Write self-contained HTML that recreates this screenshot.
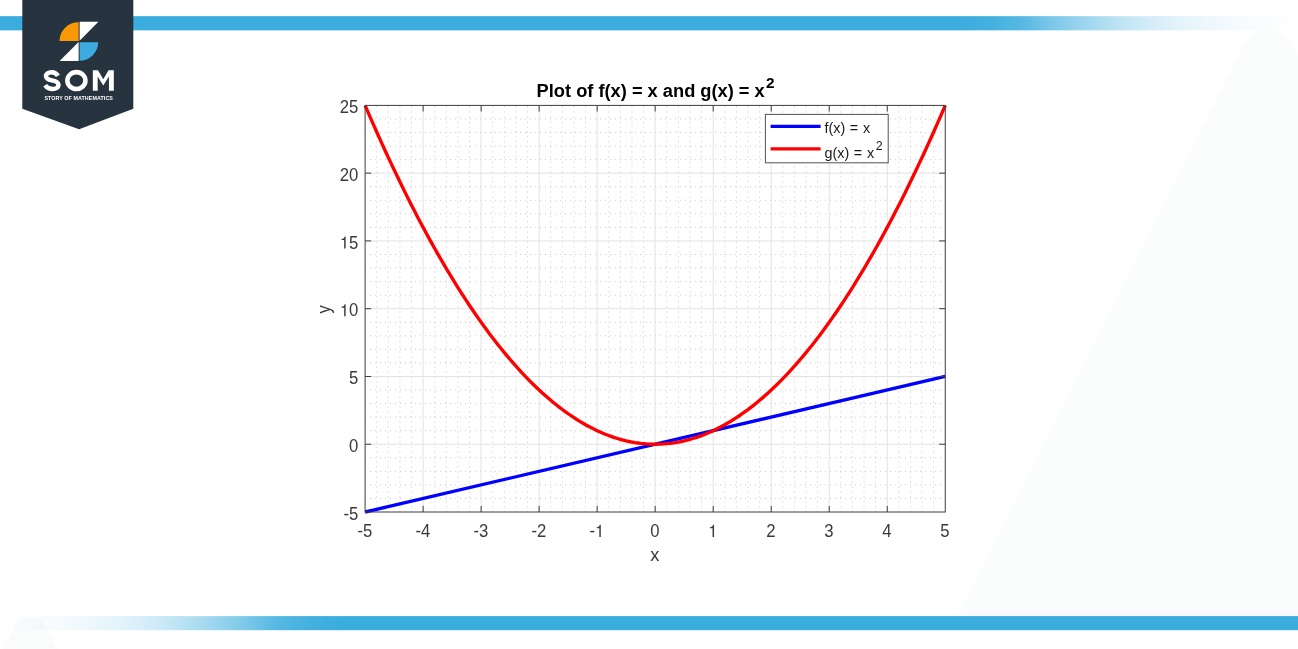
<!DOCTYPE html>
<html><head><meta charset="utf-8"><title>Plot</title>
<style>
html,body{margin:0;padding:0;background:#fff;}
body{width:1298px;height:649px;overflow:hidden;position:relative;font-family:"Liberation Sans",sans-serif;}
svg{position:absolute;left:0;top:0;display:block;will-change:transform;}
text{font-family:"Liberation Sans",sans-serif;}
</style></head><body>
<svg width="1298" height="649" viewBox="0 0 1298 649">
<defs>
<linearGradient id="gt" gradientUnits="userSpaceOnUse" x1="0" x2="1298" y1="0" y2="0"><stop offset="0.7357" stop-color="#3aacde" stop-opacity="1.0"/><stop offset="0.7627" stop-color="#3aacde" stop-opacity="0.95"/><stop offset="0.7881" stop-color="#3aacde" stop-opacity="0.85"/><stop offset="0.8112" stop-color="#3aacde" stop-opacity="0.66"/><stop offset="0.8351" stop-color="#3aacde" stop-opacity="0.5"/><stop offset="0.8590" stop-color="#3aacde" stop-opacity="0.35"/><stop offset="0.8821" stop-color="#3aacde" stop-opacity="0.235"/><stop offset="0.9060" stop-color="#3aacde" stop-opacity="0.15"/><stop offset="0.9299" stop-color="#3aacde" stop-opacity="0.09"/><stop offset="0.9530" stop-color="#3aacde" stop-opacity="0.05"/><stop offset="0.9769" stop-color="#3aacde" stop-opacity="0.025"/><stop offset="1.0000" stop-color="#3aacde" stop-opacity="0"/></linearGradient>
<linearGradient id="gb" gradientUnits="userSpaceOnUse" x1="0" x2="1298" y1="0" y2="0"><stop offset="0.0000" stop-color="#3aacde" stop-opacity="0"/><stop offset="0.0231" stop-color="#3aacde" stop-opacity="0.025"/><stop offset="0.0470" stop-color="#3aacde" stop-opacity="0.05"/><stop offset="0.0701" stop-color="#3aacde" stop-opacity="0.09"/><stop offset="0.0940" stop-color="#3aacde" stop-opacity="0.15"/><stop offset="0.1179" stop-color="#3aacde" stop-opacity="0.235"/><stop offset="0.1410" stop-color="#3aacde" stop-opacity="0.35"/><stop offset="0.1649" stop-color="#3aacde" stop-opacity="0.5"/><stop offset="0.1888" stop-color="#3aacde" stop-opacity="0.66"/><stop offset="0.2119" stop-color="#3aacde" stop-opacity="0.85"/><stop offset="0.2373" stop-color="#3aacde" stop-opacity="0.95"/><stop offset="0.2643" stop-color="#3aacde" stop-opacity="1.0"/></linearGradient>
</defs>
<rect width="1298" height="649" fill="#ffffff"/>
<!-- faint bg shapes -->
<path d="M956.1 620 L1244 45 Q1251 30.5 1263 30.5 L1273 30.5 Q1284 30.5 1289.5 41 L1298 56 V620 Z" fill="#fafcfc"/>
<path d="M3 649 L16.1 624 Q19.5 618 26 618 L35 618 Q41 618 44 624 L57 649 Z" fill="#fafcfc"/>
<rect x="0" y="16.15" width="1298" height="14.2" fill="url(#gt)"/>
<rect x="0" y="616.1" width="1298" height="14.1" fill="url(#gb)"/>

<g id="logo">
<path d="M22.3 0 H133.3 V108.7 L79.1 129.3 L22.3 108.7 Z" fill="#27343f"/>
<path d="M78.6 22.2 V41 H59.5 A19 19 0 0 1 78.6 22.2 Z" fill="#fb9806"/>
<path d="M79.6 21.8 H98.4 L79.6 40.8 Z" fill="#ffffff"/>
<path d="M78.6 42 V61 H59.6 Z" fill="#ffffff"/>
<path d="M79.6 42.2 H98.2 A18.6 18.6 0 0 1 79.6 60.8 Z" fill="#3dabe0"/>
<g fill="#fff" font-weight="bold" text-anchor="middle">
<path d="M57.9 75.9 C56.6 73.6 54.6 72.2 51.7 72.2 C48.3 72.2 46.0 73.8 46.0 76.2 C46.0 78.7 48.0 79.6 52.0 80.4 C56.4 81.3 58.5 82.5 58.5 85.0 C58.5 87.5 55.9 89.0 52.6 89.0 C49.3 89.0 46.8 87.6 45.1 85.2" fill="none" stroke="#fff" stroke-width="4.5"/>
<ellipse cx="76.4" cy="80.55" rx="9.05" ry="8.45" fill="none" stroke="#fff" stroke-width="4.55"/>
<path d="M92.85 90.85 V70.3 H98.0 L103.26 79.2 L108.55 70.3 H113.8 V90.85 H108.95 V76.4 L103.26 85.6 L97.65 76.4 V90.85 Z" stroke="none"/>
<text x="78.7" y="99.5" font-size="5.3" letter-spacing="0.1">STORY OF MATHEMATICS</text>
</g>
</g>

<g id="grid">
<line x1="376.70" x2="376.70" y1="105.4" y2="512.0" stroke="#c6c6c6" stroke-width="1" stroke-dasharray="1 4" stroke-dashoffset="3.9"/>
<line x1="388.31" x2="388.31" y1="105.4" y2="512.0" stroke="#c6c6c6" stroke-width="1" stroke-dasharray="1 4" stroke-dashoffset="3.9"/>
<line x1="399.91" x2="399.91" y1="105.4" y2="512.0" stroke="#c6c6c6" stroke-width="1" stroke-dasharray="1 4" stroke-dashoffset="3.9"/>
<line x1="411.51" x2="411.51" y1="105.4" y2="512.0" stroke="#c6c6c6" stroke-width="1" stroke-dasharray="1 4" stroke-dashoffset="3.9"/>
<line x1="434.72" x2="434.72" y1="105.4" y2="512.0" stroke="#c6c6c6" stroke-width="1" stroke-dasharray="1 4" stroke-dashoffset="3.9"/>
<line x1="446.32" x2="446.32" y1="105.4" y2="512.0" stroke="#c6c6c6" stroke-width="1" stroke-dasharray="1 4" stroke-dashoffset="3.9"/>
<line x1="457.92" x2="457.92" y1="105.4" y2="512.0" stroke="#c6c6c6" stroke-width="1" stroke-dasharray="1 4" stroke-dashoffset="3.9"/>
<line x1="469.53" x2="469.53" y1="105.4" y2="512.0" stroke="#c6c6c6" stroke-width="1" stroke-dasharray="1 4" stroke-dashoffset="3.9"/>
<line x1="492.73" x2="492.73" y1="105.4" y2="512.0" stroke="#c6c6c6" stroke-width="1" stroke-dasharray="1 4" stroke-dashoffset="3.9"/>
<line x1="504.34" x2="504.34" y1="105.4" y2="512.0" stroke="#c6c6c6" stroke-width="1" stroke-dasharray="1 4" stroke-dashoffset="3.9"/>
<line x1="515.94" x2="515.94" y1="105.4" y2="512.0" stroke="#c6c6c6" stroke-width="1" stroke-dasharray="1 4" stroke-dashoffset="3.9"/>
<line x1="527.54" x2="527.54" y1="105.4" y2="512.0" stroke="#c6c6c6" stroke-width="1" stroke-dasharray="1 4" stroke-dashoffset="3.9"/>
<line x1="550.75" x2="550.75" y1="105.4" y2="512.0" stroke="#c6c6c6" stroke-width="1" stroke-dasharray="1 4" stroke-dashoffset="3.9"/>
<line x1="562.35" x2="562.35" y1="105.4" y2="512.0" stroke="#c6c6c6" stroke-width="1" stroke-dasharray="1 4" stroke-dashoffset="3.9"/>
<line x1="573.95" x2="573.95" y1="105.4" y2="512.0" stroke="#c6c6c6" stroke-width="1" stroke-dasharray="1 4" stroke-dashoffset="3.9"/>
<line x1="585.56" x2="585.56" y1="105.4" y2="512.0" stroke="#c6c6c6" stroke-width="1" stroke-dasharray="1 4" stroke-dashoffset="3.9"/>
<line x1="608.76" x2="608.76" y1="105.4" y2="512.0" stroke="#c6c6c6" stroke-width="1" stroke-dasharray="1 4" stroke-dashoffset="3.9"/>
<line x1="620.37" x2="620.37" y1="105.4" y2="512.0" stroke="#c6c6c6" stroke-width="1" stroke-dasharray="1 4" stroke-dashoffset="3.9"/>
<line x1="631.97" x2="631.97" y1="105.4" y2="512.0" stroke="#c6c6c6" stroke-width="1" stroke-dasharray="1 4" stroke-dashoffset="3.9"/>
<line x1="643.57" x2="643.57" y1="105.4" y2="512.0" stroke="#c6c6c6" stroke-width="1" stroke-dasharray="1 4" stroke-dashoffset="3.9"/>
<line x1="666.78" x2="666.78" y1="105.4" y2="512.0" stroke="#c6c6c6" stroke-width="1" stroke-dasharray="1 4" stroke-dashoffset="3.9"/>
<line x1="678.38" x2="678.38" y1="105.4" y2="512.0" stroke="#c6c6c6" stroke-width="1" stroke-dasharray="1 4" stroke-dashoffset="3.9"/>
<line x1="689.98" x2="689.98" y1="105.4" y2="512.0" stroke="#c6c6c6" stroke-width="1" stroke-dasharray="1 4" stroke-dashoffset="3.9"/>
<line x1="701.59" x2="701.59" y1="105.4" y2="512.0" stroke="#c6c6c6" stroke-width="1" stroke-dasharray="1 4" stroke-dashoffset="3.9"/>
<line x1="724.79" x2="724.79" y1="105.4" y2="512.0" stroke="#c6c6c6" stroke-width="1" stroke-dasharray="1 4" stroke-dashoffset="3.9"/>
<line x1="736.40" x2="736.40" y1="105.4" y2="512.0" stroke="#c6c6c6" stroke-width="1" stroke-dasharray="1 4" stroke-dashoffset="3.9"/>
<line x1="748.00" x2="748.00" y1="105.4" y2="512.0" stroke="#c6c6c6" stroke-width="1" stroke-dasharray="1 4" stroke-dashoffset="3.9"/>
<line x1="759.60" x2="759.60" y1="105.4" y2="512.0" stroke="#c6c6c6" stroke-width="1" stroke-dasharray="1 4" stroke-dashoffset="3.9"/>
<line x1="782.81" x2="782.81" y1="105.4" y2="512.0" stroke="#c6c6c6" stroke-width="1" stroke-dasharray="1 4" stroke-dashoffset="3.9"/>
<line x1="794.41" x2="794.41" y1="105.4" y2="512.0" stroke="#c6c6c6" stroke-width="1" stroke-dasharray="1 4" stroke-dashoffset="3.9"/>
<line x1="806.01" x2="806.01" y1="105.4" y2="512.0" stroke="#c6c6c6" stroke-width="1" stroke-dasharray="1 4" stroke-dashoffset="3.9"/>
<line x1="817.62" x2="817.62" y1="105.4" y2="512.0" stroke="#c6c6c6" stroke-width="1" stroke-dasharray="1 4" stroke-dashoffset="3.9"/>
<line x1="840.82" x2="840.82" y1="105.4" y2="512.0" stroke="#c6c6c6" stroke-width="1" stroke-dasharray="1 4" stroke-dashoffset="3.9"/>
<line x1="852.43" x2="852.43" y1="105.4" y2="512.0" stroke="#c6c6c6" stroke-width="1" stroke-dasharray="1 4" stroke-dashoffset="3.9"/>
<line x1="864.03" x2="864.03" y1="105.4" y2="512.0" stroke="#c6c6c6" stroke-width="1" stroke-dasharray="1 4" stroke-dashoffset="3.9"/>
<line x1="875.63" x2="875.63" y1="105.4" y2="512.0" stroke="#c6c6c6" stroke-width="1" stroke-dasharray="1 4" stroke-dashoffset="3.9"/>
<line x1="898.84" x2="898.84" y1="105.4" y2="512.0" stroke="#c6c6c6" stroke-width="1" stroke-dasharray="1 4" stroke-dashoffset="3.9"/>
<line x1="910.44" x2="910.44" y1="105.4" y2="512.0" stroke="#c6c6c6" stroke-width="1" stroke-dasharray="1 4" stroke-dashoffset="3.9"/>
<line x1="922.04" x2="922.04" y1="105.4" y2="512.0" stroke="#c6c6c6" stroke-width="1" stroke-dasharray="1 4" stroke-dashoffset="3.9"/>
<line x1="933.65" x2="933.65" y1="105.4" y2="512.0" stroke="#c6c6c6" stroke-width="1" stroke-dasharray="1 4" stroke-dashoffset="3.9"/>
<line x1="365.1" x2="945.25" y1="498.45" y2="498.45" stroke="#c6c6c6" stroke-width="1" stroke-dasharray="1 4"/>
<line x1="365.1" x2="945.25" y1="484.89" y2="484.89" stroke="#c6c6c6" stroke-width="1" stroke-dasharray="1 4"/>
<line x1="365.1" x2="945.25" y1="471.34" y2="471.34" stroke="#c6c6c6" stroke-width="1" stroke-dasharray="1 4"/>
<line x1="365.1" x2="945.25" y1="457.79" y2="457.79" stroke="#c6c6c6" stroke-width="1" stroke-dasharray="1 4"/>
<line x1="365.1" x2="945.25" y1="430.68" y2="430.68" stroke="#c6c6c6" stroke-width="1" stroke-dasharray="1 4"/>
<line x1="365.1" x2="945.25" y1="417.13" y2="417.13" stroke="#c6c6c6" stroke-width="1" stroke-dasharray="1 4"/>
<line x1="365.1" x2="945.25" y1="403.57" y2="403.57" stroke="#c6c6c6" stroke-width="1" stroke-dasharray="1 4"/>
<line x1="365.1" x2="945.25" y1="390.02" y2="390.02" stroke="#c6c6c6" stroke-width="1" stroke-dasharray="1 4"/>
<line x1="365.1" x2="945.25" y1="362.91" y2="362.91" stroke="#c6c6c6" stroke-width="1" stroke-dasharray="1 4"/>
<line x1="365.1" x2="945.25" y1="349.36" y2="349.36" stroke="#c6c6c6" stroke-width="1" stroke-dasharray="1 4"/>
<line x1="365.1" x2="945.25" y1="335.81" y2="335.81" stroke="#c6c6c6" stroke-width="1" stroke-dasharray="1 4"/>
<line x1="365.1" x2="945.25" y1="322.25" y2="322.25" stroke="#c6c6c6" stroke-width="1" stroke-dasharray="1 4"/>
<line x1="365.1" x2="945.25" y1="295.15" y2="295.15" stroke="#c6c6c6" stroke-width="1" stroke-dasharray="1 4"/>
<line x1="365.1" x2="945.25" y1="281.59" y2="281.59" stroke="#c6c6c6" stroke-width="1" stroke-dasharray="1 4"/>
<line x1="365.1" x2="945.25" y1="268.04" y2="268.04" stroke="#c6c6c6" stroke-width="1" stroke-dasharray="1 4"/>
<line x1="365.1" x2="945.25" y1="254.49" y2="254.49" stroke="#c6c6c6" stroke-width="1" stroke-dasharray="1 4"/>
<line x1="365.1" x2="945.25" y1="227.38" y2="227.38" stroke="#c6c6c6" stroke-width="1" stroke-dasharray="1 4"/>
<line x1="365.1" x2="945.25" y1="213.83" y2="213.83" stroke="#c6c6c6" stroke-width="1" stroke-dasharray="1 4"/>
<line x1="365.1" x2="945.25" y1="200.27" y2="200.27" stroke="#c6c6c6" stroke-width="1" stroke-dasharray="1 4"/>
<line x1="365.1" x2="945.25" y1="186.72" y2="186.72" stroke="#c6c6c6" stroke-width="1" stroke-dasharray="1 4"/>
<line x1="365.1" x2="945.25" y1="159.61" y2="159.61" stroke="#c6c6c6" stroke-width="1" stroke-dasharray="1 4"/>
<line x1="365.1" x2="945.25" y1="146.06" y2="146.06" stroke="#c6c6c6" stroke-width="1" stroke-dasharray="1 4"/>
<line x1="365.1" x2="945.25" y1="132.51" y2="132.51" stroke="#c6c6c6" stroke-width="1" stroke-dasharray="1 4"/>
<line x1="365.1" x2="945.25" y1="118.95" y2="118.95" stroke="#c6c6c6" stroke-width="1" stroke-dasharray="1 4"/>
<line x1="423.12" x2="423.12" y1="105.4" y2="512.0" stroke="#e2e2e2" stroke-width="1"/>
<line x1="481.13" x2="481.13" y1="105.4" y2="512.0" stroke="#e2e2e2" stroke-width="1"/>
<line x1="539.14" x2="539.14" y1="105.4" y2="512.0" stroke="#e2e2e2" stroke-width="1"/>
<line x1="597.16" x2="597.16" y1="105.4" y2="512.0" stroke="#e2e2e2" stroke-width="1"/>
<line x1="655.17" x2="655.17" y1="105.4" y2="512.0" stroke="#e2e2e2" stroke-width="1"/>
<line x1="713.19" x2="713.19" y1="105.4" y2="512.0" stroke="#e2e2e2" stroke-width="1"/>
<line x1="771.20" x2="771.20" y1="105.4" y2="512.0" stroke="#e2e2e2" stroke-width="1"/>
<line x1="829.22" x2="829.22" y1="105.4" y2="512.0" stroke="#e2e2e2" stroke-width="1"/>
<line x1="887.24" x2="887.24" y1="105.4" y2="512.0" stroke="#e2e2e2" stroke-width="1"/>
<line x1="365.1" x2="945.25" y1="444.23" y2="444.23" stroke="#e2e2e2" stroke-width="1"/>
<line x1="365.1" x2="945.25" y1="376.47" y2="376.47" stroke="#e2e2e2" stroke-width="1"/>
<line x1="365.1" x2="945.25" y1="308.70" y2="308.70" stroke="#e2e2e2" stroke-width="1"/>
<line x1="365.1" x2="945.25" y1="240.93" y2="240.93" stroke="#e2e2e2" stroke-width="1"/>
<line x1="365.1" x2="945.25" y1="173.17" y2="173.17" stroke="#e2e2e2" stroke-width="1"/>
</g>
<line x1="365.1" y1="512.0" x2="945.25" y2="376.4666666666667" stroke="#0000ff" stroke-width="3.35"/>
<polyline points="365.10,105.40 368.00,112.14 370.90,118.82 373.80,125.43 376.70,131.96 379.60,138.44 382.50,144.84 385.41,151.18 388.31,157.44 391.21,163.65 394.11,169.78 397.01,175.84 399.91,181.84 402.81,187.77 405.71,193.63 408.61,199.43 411.51,205.15 414.41,210.81 417.31,216.40 420.21,221.92 423.12,227.38 426.02,232.77 428.92,238.09 431.82,243.34 434.72,248.52 437.62,253.64 440.52,258.69 443.42,263.67 446.32,268.58 449.22,273.43 452.12,278.21 455.02,282.91 457.92,287.56 460.82,292.13 463.73,296.64 466.63,301.08 469.53,305.45 472.43,309.75 475.33,313.99 478.23,318.15 481.13,322.25 484.03,326.29 486.93,330.25 489.83,334.15 492.73,337.98 495.63,341.74 498.53,345.43 501.44,349.06 504.34,352.61 507.24,356.10 510.14,359.52 513.04,362.88 515.94,366.17 518.84,369.39 521.74,372.54 524.64,375.62 527.54,378.64 530.44,381.58 533.34,384.46 536.24,387.28 539.14,390.02 542.05,392.70 544.95,395.31 547.85,397.85 550.75,400.32 553.65,402.73 556.55,405.06 559.45,407.33 562.35,409.54 565.25,411.67 568.15,413.74 571.05,415.74 573.95,417.67 576.85,419.53 579.76,421.33 582.66,423.06 585.56,424.72 588.46,426.31 591.36,427.83 594.26,429.29 597.16,430.68 600.06,432.00 602.96,433.26 605.86,434.44 608.76,435.56 611.66,436.61 614.56,437.59 617.47,438.51 620.37,439.35 623.27,440.13 626.17,440.85 629.07,441.49 631.97,442.06 634.87,442.57 637.77,443.01 640.67,443.39 643.57,443.69 646.47,443.93 649.37,444.10 652.27,444.20 655.17,444.23 658.08,444.20 660.98,444.10 663.88,443.93 666.78,443.69 669.68,443.39 672.58,443.01 675.48,442.57 678.38,442.06 681.28,441.49 684.18,440.85 687.08,440.13 689.98,439.35 692.88,438.51 695.79,437.59 698.69,436.61 701.59,435.56 704.49,434.44 707.39,433.26 710.29,432.00 713.19,430.68 716.09,429.29 718.99,427.83 721.89,426.31 724.79,424.72 727.69,423.06 730.59,421.33 733.50,419.53 736.40,417.67 739.30,415.74 742.20,413.74 745.10,411.67 748.00,409.54 750.90,407.33 753.80,405.06 756.70,402.73 759.60,400.32 762.50,397.85 765.40,395.31 768.30,392.70 771.20,390.02 774.11,387.28 777.01,384.46 779.91,381.58 782.81,378.64 785.71,375.62 788.61,372.54 791.51,369.39 794.41,366.17 797.31,362.88 800.21,359.52 803.11,356.10 806.01,352.61 808.91,349.06 811.82,345.43 814.72,341.74 817.62,337.98 820.52,334.15 823.42,330.25 826.32,326.29 829.22,322.25 832.12,318.15 835.02,313.99 837.92,309.75 840.82,305.45 843.72,301.08 846.62,296.64 849.53,292.13 852.43,287.56 855.33,282.91 858.23,278.21 861.13,273.43 864.03,268.58 866.93,263.67 869.83,258.69 872.73,253.64 875.63,248.52 878.53,243.34 881.43,238.09 884.33,232.77 887.24,227.38 890.14,221.92 893.04,216.40 895.94,210.81 898.84,205.15 901.74,199.43 904.64,193.63 907.54,187.77 910.44,181.84 913.34,175.84 916.24,169.78 919.14,163.65 922.04,157.44 924.94,151.18 927.85,144.84 930.75,138.44 933.65,131.96 936.55,125.43 939.45,118.82 942.35,112.14 945.25,105.40" fill="none" stroke="#ff0000" stroke-width="3.35" stroke-linejoin="round"/>
<g id="axes" stroke="#3d3d3d" stroke-width="1" fill="none">
<rect x="365.1" y="105.4" width="580.15" height="406.6"/>
<line x1="423.12" x2="423.12" y1="512.0" y2="505.9"/>
<line x1="423.12" x2="423.12" y1="105.4" y2="111.5"/>
<line x1="481.13" x2="481.13" y1="512.0" y2="505.9"/>
<line x1="481.13" x2="481.13" y1="105.4" y2="111.5"/>
<line x1="539.14" x2="539.14" y1="512.0" y2="505.9"/>
<line x1="539.14" x2="539.14" y1="105.4" y2="111.5"/>
<line x1="597.16" x2="597.16" y1="512.0" y2="505.9"/>
<line x1="597.16" x2="597.16" y1="105.4" y2="111.5"/>
<line x1="655.17" x2="655.17" y1="512.0" y2="505.9"/>
<line x1="655.17" x2="655.17" y1="105.4" y2="111.5"/>
<line x1="713.19" x2="713.19" y1="512.0" y2="505.9"/>
<line x1="713.19" x2="713.19" y1="105.4" y2="111.5"/>
<line x1="771.20" x2="771.20" y1="512.0" y2="505.9"/>
<line x1="771.20" x2="771.20" y1="105.4" y2="111.5"/>
<line x1="829.22" x2="829.22" y1="512.0" y2="505.9"/>
<line x1="829.22" x2="829.22" y1="105.4" y2="111.5"/>
<line x1="887.24" x2="887.24" y1="512.0" y2="505.9"/>
<line x1="887.24" x2="887.24" y1="105.4" y2="111.5"/>
<line x1="365.1" x2="371.20000000000005" y1="444.23" y2="444.23"/>
<line x1="945.25" x2="939.15" y1="444.23" y2="444.23"/>
<line x1="365.1" x2="371.20000000000005" y1="376.47" y2="376.47"/>
<line x1="945.25" x2="939.15" y1="376.47" y2="376.47"/>
<line x1="365.1" x2="371.20000000000005" y1="308.70" y2="308.70"/>
<line x1="945.25" x2="939.15" y1="308.70" y2="308.70"/>
<line x1="365.1" x2="371.20000000000005" y1="240.93" y2="240.93"/>
<line x1="945.25" x2="939.15" y1="240.93" y2="240.93"/>
<line x1="365.1" x2="371.20000000000005" y1="173.17" y2="173.17"/>
<line x1="945.25" x2="939.15" y1="173.17" y2="173.17"/>
</g>
<g font-size="16.7" fill="#3a3a3a">
<text transform="translate(357.38 536.90) scale(1 1.05)">-</text><text transform="translate(362.94 536.90) scale(1 1.05)">5</text>
<text transform="translate(415.39 536.90) scale(1 1.05)">-</text><text transform="translate(420.95 536.90) scale(1 1.05)">4</text>
<text transform="translate(473.41 536.90) scale(1 1.05)">-</text><text transform="translate(478.97 536.90) scale(1 1.05)">3</text>
<text transform="translate(531.42 536.90) scale(1 1.05)">-</text><text transform="translate(536.98 536.90) scale(1 1.05)">2</text>
<text transform="translate(589.44 536.90) scale(1 1.05)">-</text><path transform="translate(595.00 536.90) scale(0.01670 -0.01702)" d="M259 0H347V709H289C258 600 238 585 102 568V505H259Z"/>
<text transform="translate(650.23 536.90) scale(1 1.05)">0</text>
<path transform="translate(708.25 536.90) scale(0.01670 -0.01702)" d="M259 0H347V709H289C258 600 238 585 102 568V505H259Z"/>
<text transform="translate(766.26 536.90) scale(1 1.05)">2</text>
<text transform="translate(824.28 536.90) scale(1 1.05)">3</text>
<text transform="translate(882.29 536.90) scale(1 1.05)">4</text>
<text transform="translate(940.31 536.90) scale(1 1.05)">5</text>
<text transform="translate(343.55 519.65) scale(1 1.05)">-</text><text transform="translate(349.11 519.65) scale(1 1.05)">5</text>
<text transform="translate(349.11 451.88) scale(1 1.05)">0</text>
<text transform="translate(349.11 384.12) scale(1 1.05)">5</text>
<path transform="translate(339.83 316.35) scale(0.01670 -0.01702)" d="M259 0H347V709H289C258 600 238 585 102 568V505H259Z"/><text transform="translate(349.11 316.35) scale(1 1.05)">0</text>
<path transform="translate(339.83 248.58) scale(0.01670 -0.01702)" d="M259 0H347V709H289C258 600 238 585 102 568V505H259Z"/><text transform="translate(349.11 248.58) scale(1 1.05)">5</text>
<text transform="translate(339.83 180.82) scale(1 1.05)">2</text><text transform="translate(349.11 180.82) scale(1 1.05)">0</text>
<text transform="translate(339.83 113.05) scale(1 1.05)">2</text><text transform="translate(349.11 113.05) scale(1 1.05)">5</text>
<text transform="translate(654.8 560.7) scale(1 1.03)" text-anchor="middle" font-size="18.2">x</text>
<text transform="translate(329.6 309.3) rotate(-90) scale(0.9 1.02)" text-anchor="middle" font-size="18.2">y</text>
</g>
<text x="536.6" y="96.8" font-size="18.25" font-weight="bold" fill="#000">Plot of f(x) = x and g(x) = x<tspan dy="-9.3" dx="1.3" font-size="15.4">2</tspan></text>
<g id="legend">
<rect x="765.4" y="114.4" width="122.8" height="48.4" fill="#fff" stroke="#505050" stroke-width="1"/>
<line x1="770.6" x2="820.6" y1="126.4" y2="126.4" stroke="#0000ff" stroke-width="3.2"/>
<line x1="770.6" x2="820.6" y1="148.8" y2="148.8" stroke="#ff0000" stroke-width="3.2"/>
<text x="824.4" y="132.9" font-size="14.4" word-spacing="0.7" fill="#1a1a1a">f(x) = x</text>
<text x="824.4" y="158.4" font-size="14.4" word-spacing="0.7" fill="#1a1a1a">g(x) = x<tspan dy="-8" dx="1.6" font-size="12.4">2</tspan></text>
</g>

</svg></body></html>
